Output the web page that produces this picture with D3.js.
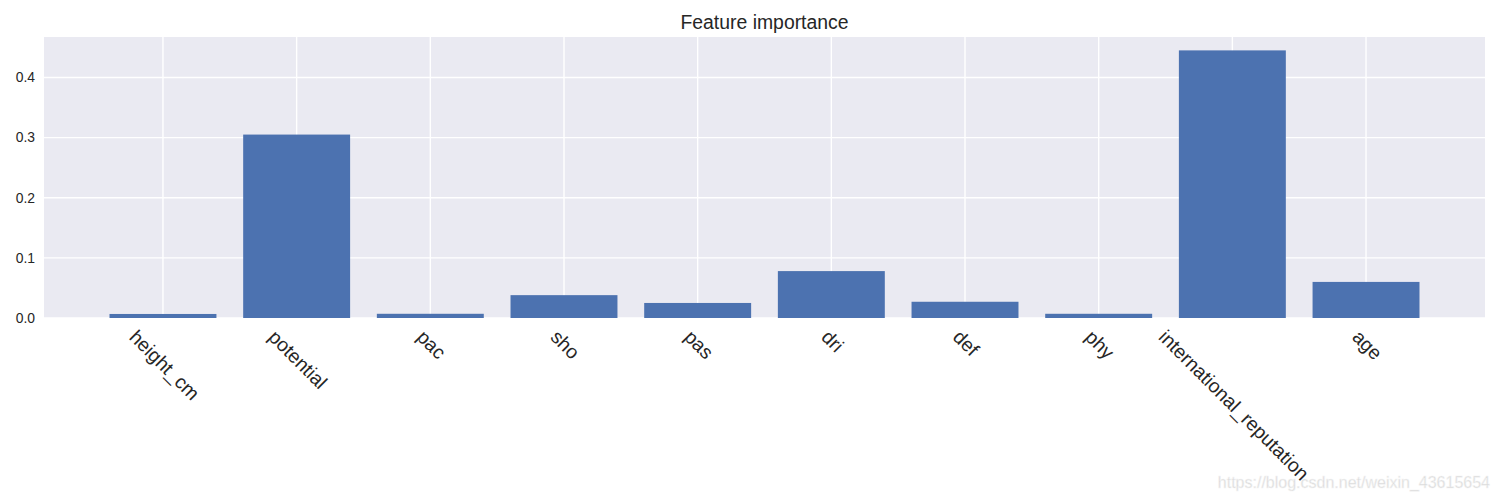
<!DOCTYPE html>
<html>
<head>
<meta charset="utf-8">
<script src="https://cdn.jsdelivr.net/npm/d3@7"></script>
<style>
  body { margin: 0; background: #fff; }
  text { font-family: "Liberation Sans", Arial, sans-serif; }
</style>
</head>
<body>
<svg id="chart" width="1500" height="500"></svg>
<script>
const features = ["height_cm", "potential", "pac", "sho", "pas", "dri", "def", "phy", "international_reputation", "age"];
const importance = [0.0067, 0.305, 0.007, 0.038, 0.025, 0.078, 0.027, 0.007, 0.445, 0.060];
const yTicks = [0.0, 0.1, 0.2, 0.3, 0.4];

const margin = { top: 37, right: 15, bottom: 182, left: 44 };
const width = 1500 - margin.left - margin.right;
const height = 500 - margin.top - margin.bottom;

const svg = d3.select("#chart");
const g = svg.append("g")
	.attr("transform", `translate(${margin.left}, ${margin.top})`);

// matplotlib-like bar positions: index +/- 0.4, 5% margins
const idx = d3.range(features.length);
const x = d3.scaleLinear()
	.domain([-0.4 - 0.49, features.length - 1 + 0.4 + 0.49])
	.range([0, width]);
const barW = x(0.8) - x(0);

const y = d3.scaleLinear()
	.domain([0, d3.max(importance) * 1.05])
	.range([height, 0]);

g.append("rect")
	.attr("width", width)
	.attr("height", height)
	.attr("fill", "#eaeaf2");

// grid
g.append("g")
	.selectAll("line")
	.data(yTicks)
	.join("line")
	.attr("x1", 0)
	.attr("x2", width)
	.attr("y1", d => y(d))
	.attr("y2", d => y(d))
	.attr("stroke", "#fff")
	.attr("stroke-width", 1.4);

g.append("g")
	.selectAll("line")
	.data(idx)
	.join("line")
	.attr("x1", d => x(d))
	.attr("x2", d => x(d))
	.attr("y1", 0)
	.attr("y2", height)
	.attr("stroke", "#fff")
	.attr("stroke-width", 1.4);

// bars
g.append("g")
	.selectAll("rect")
	.data(importance)
	.join("rect")
	.attr("x", (d, i) => x(i) - barW / 2)
	.attr("y", d => y(d))
	.attr("width", barW)
	.attr("height", d => y(0) - y(d))
	.attr("fill", "#4c72b0");

// y axis labels
g.append("g")
	.selectAll("text")
	.data(yTicks)
	.join("text")
	.attr("x", -9)
	.attr("y", d => y(d))
	.attr("dy", "0.35em")
	.attr("text-anchor", "end")
	.attr("font-size", "13.9px")
	.attr("fill", "#262626")
	.text(d => d3.format(".1f")(d));

// x labels rotated -45 (clockwise), centred under the tick
const labels = g.append("g")
	.selectAll("text")
	.data(features)
	.join("text")
	.attr("font-size", "19.4px")
	.attr("fill", "#262626")
	.attr("text-anchor", "middle")
	.text(d => d);

labels.each(function(d, i) {
	const b = this.getBBox();
	const half = Math.SQRT1_2 * (b.width + b.height) / 2;
	const cx = x(i) + 1.5;
	const cy = height + 7.5 + half;
	d3.select(this).attr("transform",
		`translate(${cx}, ${cy}) rotate(45) translate(${-(b.x + b.width / 2)}, ${-(b.y + b.height / 2)})`);
});

// title
svg.append("text")
	.attr("x", margin.left + width / 2)
	.attr("y", 29)
	.attr("text-anchor", "middle")
	.attr("font-size", "19.4px")
	.attr("fill", "#262626")
	.text("Feature importance");

// watermark
svg.append("text")
	.attr("x", 1490)
	.attr("y", 488)
	.attr("text-anchor", "end")
	.attr("font-size", "16px")
	.attr("fill", "#d9d9d9")
	.attr("stroke", "#f4f4f4")
	.attr("stroke-width", 0.5)
	.text("https://blog.csdn.net/weixin_43615654");
</script>
</body>
</html>
